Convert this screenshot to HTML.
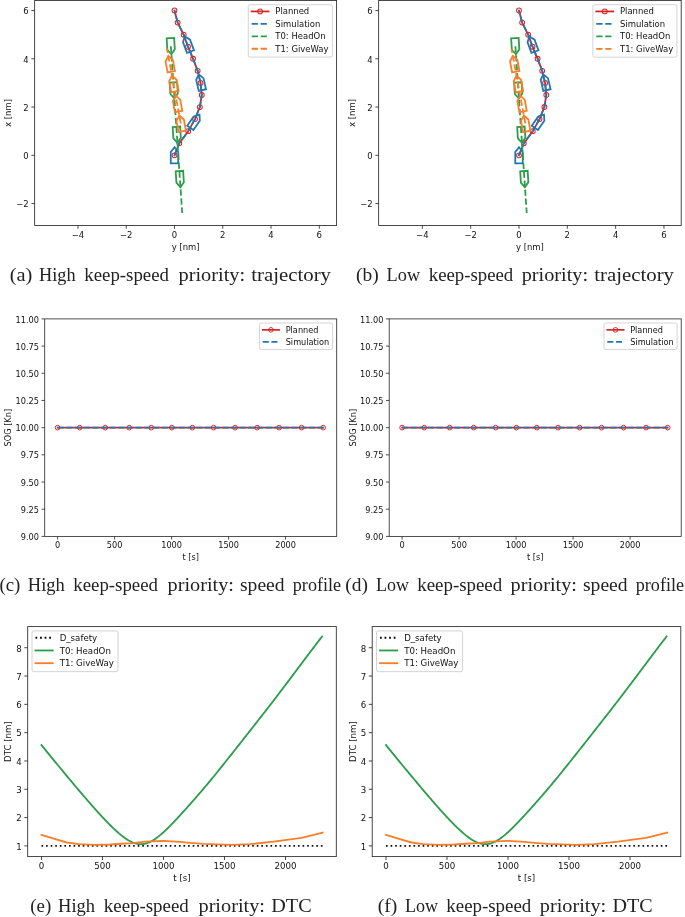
<!DOCTYPE html>
<html><head><meta charset="utf-8"><title>Figure</title>
<style>
html,body{margin:0;padding:0;background:#fff;}
svg{display:block;}
svg text{font-family:"DejaVu Sans","Liberation Sans",sans-serif;fill:#111;}
svg text.cap{font-family:"Liberation Serif","DejaVu Serif",serif;font-size:18.5px;fill:#222;}
</style></head><body>
<svg width="685" height="917" viewBox="0 0 685 917">
<rect width="685" height="917" fill="#fff"/>
<rect x="34.65" y="0.5" width="301.95" height="224.95" fill="#fff" stroke="#2a2a2a" stroke-width="0.85"/>
<line x1="77.98" y1="225.45" x2="77.98" y2="228.75" stroke="#2a2a2a" stroke-width="0.85"/>
<text x="77.98" y="237.79" font-size="8.46" text-anchor="middle">−4</text>
<line x1="126.24" y1="225.45" x2="126.24" y2="228.75" stroke="#2a2a2a" stroke-width="0.85"/>
<text x="126.24" y="237.79" font-size="8.46" text-anchor="middle">−2</text>
<line x1="174.5" y1="225.45" x2="174.5" y2="228.75" stroke="#2a2a2a" stroke-width="0.85"/>
<text x="174.5" y="237.79" font-size="8.46" text-anchor="middle">0</text>
<line x1="222.76" y1="225.45" x2="222.76" y2="228.75" stroke="#2a2a2a" stroke-width="0.85"/>
<text x="222.76" y="237.79" font-size="8.46" text-anchor="middle">2</text>
<line x1="271.02" y1="225.45" x2="271.02" y2="228.75" stroke="#2a2a2a" stroke-width="0.85"/>
<text x="271.02" y="237.79" font-size="8.46" text-anchor="middle">4</text>
<line x1="319.28" y1="225.45" x2="319.28" y2="228.75" stroke="#2a2a2a" stroke-width="0.85"/>
<text x="319.28" y="237.79" font-size="8.46" text-anchor="middle">6</text>
<line x1="34.65" y1="203.56" x2="31.35" y2="203.56" stroke="#2a2a2a" stroke-width="0.85"/>
<text x="28.73" y="207.28" font-size="8.46" text-anchor="end">−2</text>
<line x1="34.65" y1="155.3" x2="31.35" y2="155.3" stroke="#2a2a2a" stroke-width="0.85"/>
<text x="28.73" y="159.02" font-size="8.46" text-anchor="end">0</text>
<line x1="34.65" y1="107.04" x2="31.35" y2="107.04" stroke="#2a2a2a" stroke-width="0.85"/>
<text x="28.73" y="110.76" font-size="8.46" text-anchor="end">2</text>
<line x1="34.65" y1="58.78" x2="31.35" y2="58.78" stroke="#2a2a2a" stroke-width="0.85"/>
<text x="28.73" y="62.5" font-size="8.46" text-anchor="end">4</text>
<line x1="34.65" y1="10.52" x2="31.35" y2="10.52" stroke="#2a2a2a" stroke-width="0.85"/>
<text x="28.73" y="14.24" font-size="8.46" text-anchor="end">6</text>
<text x="185.62" y="249.63" font-size="8.46" text-anchor="middle">y [nm]</text>
<text transform="translate(11.05,112.97) rotate(-90)" font-size="8.46" text-anchor="middle">x [nm]</text>
<clipPath id="cp0"><rect x="34.65" y="0.5" width="301.95" height="224.95"/></clipPath>
<g clip-path="url(#cp0)">
<polyline points="174.5,155.3 179.33,143.24 188.25,131.17 195.01,119.11 199.84,107.04 201.77,94.98 200.56,82.91 197.66,70.85 193.08,58.78 188.01,46.72 183.67,34.65 177.64,22.59 174.5,10.52" fill="none" stroke="#d62728" stroke-width="1.79" stroke-linejoin="round" stroke-linecap="square"/>
<circle cx="174.5" cy="155.3" r="2.41" fill="none" stroke="#d62728" stroke-width="1.01"/>
<circle cx="179.33" cy="143.24" r="2.41" fill="none" stroke="#d62728" stroke-width="1.01"/>
<circle cx="188.25" cy="131.17" r="2.41" fill="none" stroke="#d62728" stroke-width="1.01"/>
<circle cx="195.01" cy="119.11" r="2.41" fill="none" stroke="#d62728" stroke-width="1.01"/>
<circle cx="199.84" cy="107.04" r="2.41" fill="none" stroke="#d62728" stroke-width="1.01"/>
<circle cx="201.77" cy="94.98" r="2.41" fill="none" stroke="#d62728" stroke-width="1.01"/>
<circle cx="200.56" cy="82.91" r="2.41" fill="none" stroke="#d62728" stroke-width="1.01"/>
<circle cx="197.66" cy="70.85" r="2.41" fill="none" stroke="#d62728" stroke-width="1.01"/>
<circle cx="193.08" cy="58.78" r="2.41" fill="none" stroke="#d62728" stroke-width="1.01"/>
<circle cx="188.01" cy="46.72" r="2.41" fill="none" stroke="#d62728" stroke-width="1.01"/>
<circle cx="183.67" cy="34.65" r="2.41" fill="none" stroke="#d62728" stroke-width="1.01"/>
<circle cx="177.64" cy="22.59" r="2.41" fill="none" stroke="#d62728" stroke-width="1.01"/>
<circle cx="174.5" cy="10.52" r="2.41" fill="none" stroke="#d62728" stroke-width="1.01"/>
<polyline points="174.5,155.3 179.33,143.24 188.25,131.17 195.01,119.11 199.84,107.04 201.77,94.98 200.56,82.91 197.66,70.85 193.08,58.78 188.01,46.72 183.67,34.65 177.64,22.59 174.5,10.52" fill="none" stroke="#1f77b4" stroke-width="1.79" stroke-linejoin="round" stroke-dasharray="6.26 2.71"/>
<polygon points="170.76,163.38 170.76,152.04 174.5,147.22 178.24,152.04 178.24,163.38" fill="none" stroke="#1f77b4" stroke-width="1.79" stroke-linejoin="miter"/>
<polygon points="187.23,125.82 193.65,116.47 199.47,114.61 199.82,120.71 193.39,130.06" fill="none" stroke="#1f77b4" stroke-width="1.79" stroke-linejoin="miter"/>
<polygon points="198.73,90.9 196.18,79.85 198.74,74.31 203.47,78.17 206.02,89.22" fill="none" stroke="#1f77b4" stroke-width="1.79" stroke-linejoin="miter"/>
<polygon points="186.98,52.94 183.01,42.32 184.82,36.49 190.01,39.7 193.99,50.32" fill="none" stroke="#1f77b4" stroke-width="1.79" stroke-linejoin="miter"/>
<polyline points="170.88,46.23 182.22,212.97" fill="none" stroke="#2a9e4b" stroke-width="1.79" stroke-linejoin="round" stroke-dasharray="6.26 2.71"/>
<polygon points="174.11,37.93 174.82,49.25 171.38,54.3 167.35,49.72 166.64,38.4" fill="none" stroke="#2a9e4b" stroke-width="1.79" stroke-linejoin="miter"/>
<polygon points="177.12,82.23 177.83,93.55 174.4,98.59 170.36,94.01 169.66,82.69" fill="none" stroke="#2a9e4b" stroke-width="1.79" stroke-linejoin="miter"/>
<polygon points="180.14,126.52 180.84,137.84 177.41,142.89 173.38,138.31 172.67,126.99" fill="none" stroke="#2a9e4b" stroke-width="1.79" stroke-linejoin="miter"/>
<polygon points="183.15,170.82 183.85,182.13 180.42,187.18 176.39,182.6 175.68,171.28" fill="none" stroke="#2a9e4b" stroke-width="1.79" stroke-linejoin="miter"/>
<polyline points="180.77,123.45 167.02,48.65" fill="none" stroke="#f97e27" stroke-width="1.79" stroke-linejoin="round" stroke-dasharray="6.26 2.71"/>
<polygon points="178.56,132.08 176.51,120.92 179.31,115.5 183.86,119.57 185.91,130.72" fill="none" stroke="#f97e27" stroke-width="1.79" stroke-linejoin="miter"/>
<polygon points="174.9,112.2 172.85,101.05 175.66,95.63 180.21,99.7 182.26,110.85" fill="none" stroke="#f97e27" stroke-width="1.79" stroke-linejoin="miter"/>
<polygon points="171.25,92.33 169.2,81.18 172,75.75 176.56,79.83 178.61,90.98" fill="none" stroke="#f97e27" stroke-width="1.79" stroke-linejoin="miter"/>
<polygon points="167.6,72.46 165.54,61.31 168.35,55.88 172.9,59.95 174.95,71.11" fill="none" stroke="#f97e27" stroke-width="1.79" stroke-linejoin="miter"/>
</g>
<rect x="248.27" y="4.73" width="84.1" height="52.32" rx="1.69" fill="#fff" fill-opacity="0.8" stroke="#ccc" stroke-width="0.85"/>
<line x1="251.65" y1="11.41" x2="268.56" y2="11.41" stroke="#d62728" stroke-width="1.79" stroke-linecap="square"/>
<circle cx="260.11" cy="11.41" r="2.41" fill="none" stroke="#d62728" stroke-width="1.01"/>
<text x="275.33" y="14.41" font-size="8.46">Planned</text>
<line x1="251.65" y1="23.85" x2="268.56" y2="23.85" stroke="#1f77b4" stroke-width="1.79" stroke-dasharray="6.26 2.71"/>
<text x="275.33" y="26.85" font-size="8.46">Simulation</text>
<line x1="251.65" y1="36.3" x2="268.56" y2="36.3" stroke="#2a9e4b" stroke-width="1.79" stroke-dasharray="6.26 2.71"/>
<text x="275.33" y="39.3" font-size="8.46">T0: HeadOn</text>
<line x1="251.65" y1="48.75" x2="268.56" y2="48.75" stroke="#f97e27" stroke-width="1.79" stroke-dasharray="6.26 2.71"/>
<text x="275.33" y="51.75" font-size="8.46">T1: GiveWay</text>
<rect x="378.65" y="0.5" width="302.55" height="224.95" fill="#fff" stroke="#2a2a2a" stroke-width="0.85"/>
<line x1="422.36" y1="225.45" x2="422.36" y2="228.75" stroke="#2a2a2a" stroke-width="0.85"/>
<text x="422.36" y="237.82" font-size="8.47" text-anchor="middle">−4</text>
<line x1="470.68" y1="225.45" x2="470.68" y2="228.75" stroke="#2a2a2a" stroke-width="0.85"/>
<text x="470.68" y="237.82" font-size="8.47" text-anchor="middle">−2</text>
<line x1="519" y1="225.45" x2="519" y2="228.75" stroke="#2a2a2a" stroke-width="0.85"/>
<text x="519" y="237.82" font-size="8.47" text-anchor="middle">0</text>
<line x1="567.32" y1="225.45" x2="567.32" y2="228.75" stroke="#2a2a2a" stroke-width="0.85"/>
<text x="567.32" y="237.82" font-size="8.47" text-anchor="middle">2</text>
<line x1="615.64" y1="225.45" x2="615.64" y2="228.75" stroke="#2a2a2a" stroke-width="0.85"/>
<text x="615.64" y="237.82" font-size="8.47" text-anchor="middle">4</text>
<line x1="663.96" y1="225.45" x2="663.96" y2="228.75" stroke="#2a2a2a" stroke-width="0.85"/>
<text x="663.96" y="237.82" font-size="8.47" text-anchor="middle">6</text>
<line x1="378.65" y1="203.56" x2="375.35" y2="203.56" stroke="#2a2a2a" stroke-width="0.85"/>
<text x="372.72" y="207.29" font-size="8.47" text-anchor="end">−2</text>
<line x1="378.65" y1="155.3" x2="375.35" y2="155.3" stroke="#2a2a2a" stroke-width="0.85"/>
<text x="372.72" y="159.03" font-size="8.47" text-anchor="end">0</text>
<line x1="378.65" y1="107.04" x2="375.35" y2="107.04" stroke="#2a2a2a" stroke-width="0.85"/>
<text x="372.72" y="110.77" font-size="8.47" text-anchor="end">2</text>
<line x1="378.65" y1="58.78" x2="375.35" y2="58.78" stroke="#2a2a2a" stroke-width="0.85"/>
<text x="372.72" y="62.51" font-size="8.47" text-anchor="end">4</text>
<line x1="378.65" y1="10.52" x2="375.35" y2="10.52" stroke="#2a2a2a" stroke-width="0.85"/>
<text x="372.72" y="14.25" font-size="8.47" text-anchor="end">6</text>
<text x="529.92" y="249.68" font-size="8.47" text-anchor="middle">y [nm]</text>
<text transform="translate(355.05,112.97) rotate(-90)" font-size="8.47" text-anchor="middle">x [nm]</text>
<clipPath id="cp344"><rect x="378.65" y="0.5" width="302.55" height="224.95"/></clipPath>
<g clip-path="url(#cp344)">
<polyline points="519,155.3 523.83,143.24 532.77,131.17 539.54,119.11 544.37,107.04 546.3,94.98 545.09,82.91 542.19,70.85 537.6,58.78 532.53,46.72 528.18,34.65 522.14,22.59 519,10.52" fill="none" stroke="#d62728" stroke-width="1.8" stroke-linejoin="round" stroke-linecap="square"/>
<circle cx="519" cy="155.3" r="2.41" fill="none" stroke="#d62728" stroke-width="1.02"/>
<circle cx="523.83" cy="143.24" r="2.41" fill="none" stroke="#d62728" stroke-width="1.02"/>
<circle cx="532.77" cy="131.17" r="2.41" fill="none" stroke="#d62728" stroke-width="1.02"/>
<circle cx="539.54" cy="119.11" r="2.41" fill="none" stroke="#d62728" stroke-width="1.02"/>
<circle cx="544.37" cy="107.04" r="2.41" fill="none" stroke="#d62728" stroke-width="1.02"/>
<circle cx="546.3" cy="94.98" r="2.41" fill="none" stroke="#d62728" stroke-width="1.02"/>
<circle cx="545.09" cy="82.91" r="2.41" fill="none" stroke="#d62728" stroke-width="1.02"/>
<circle cx="542.19" cy="70.85" r="2.41" fill="none" stroke="#d62728" stroke-width="1.02"/>
<circle cx="537.6" cy="58.78" r="2.41" fill="none" stroke="#d62728" stroke-width="1.02"/>
<circle cx="532.53" cy="46.72" r="2.41" fill="none" stroke="#d62728" stroke-width="1.02"/>
<circle cx="528.18" cy="34.65" r="2.41" fill="none" stroke="#d62728" stroke-width="1.02"/>
<circle cx="522.14" cy="22.59" r="2.41" fill="none" stroke="#d62728" stroke-width="1.02"/>
<circle cx="519" cy="10.52" r="2.41" fill="none" stroke="#d62728" stroke-width="1.02"/>
<polyline points="519,155.3 523.83,143.24 532.77,131.17 539.54,119.11 544.37,107.04 546.3,94.98 545.09,82.91 542.19,70.85 537.6,58.78 532.53,46.72 528.18,34.65 522.14,22.59 519,10.52" fill="none" stroke="#1f77b4" stroke-width="1.8" stroke-linejoin="round" stroke-dasharray="6.27 2.71"/>
<polygon points="515.26,163.38 515.26,152.04 519,147.22 522.74,152.04 522.74,163.38" fill="none" stroke="#1f77b4" stroke-width="1.8" stroke-linejoin="miter"/>
<polygon points="531.75,125.82 538.18,116.47 543.99,114.61 544.34,120.71 537.92,130.06" fill="none" stroke="#1f77b4" stroke-width="1.8" stroke-linejoin="miter"/>
<polygon points="543.27,90.9 540.72,79.85 543.27,74.31 548,78.17 550.56,89.22" fill="none" stroke="#1f77b4" stroke-width="1.8" stroke-linejoin="miter"/>
<polygon points="531.49,52.94 527.52,42.32 529.34,36.49 534.53,39.7 538.5,50.32" fill="none" stroke="#1f77b4" stroke-width="1.8" stroke-linejoin="miter"/>
<polyline points="515.38,46.23 526.73,212.97" fill="none" stroke="#2a9e4b" stroke-width="1.8" stroke-linejoin="round" stroke-dasharray="6.27 2.71"/>
<polygon points="518.61,37.93 519.31,49.25 515.88,54.3 511.85,49.72 511.14,38.4" fill="none" stroke="#2a9e4b" stroke-width="1.8" stroke-linejoin="miter"/>
<polygon points="521.62,82.23 522.33,93.55 518.9,98.59 514.86,94.01 514.16,82.69" fill="none" stroke="#2a9e4b" stroke-width="1.8" stroke-linejoin="miter"/>
<polygon points="524.64,126.52 525.34,137.84 521.91,142.89 517.88,138.31 517.17,126.99" fill="none" stroke="#2a9e4b" stroke-width="1.8" stroke-linejoin="miter"/>
<polygon points="527.66,170.82 528.36,182.13 524.93,187.18 520.9,182.6 520.19,171.28" fill="none" stroke="#2a9e4b" stroke-width="1.8" stroke-linejoin="miter"/>
<polyline points="525.28,123.45 511.51,48.65" fill="none" stroke="#f97e27" stroke-width="1.8" stroke-linejoin="round" stroke-dasharray="6.27 2.71"/>
<polygon points="523.06,132.08 521.01,120.92 523.82,115.5 528.37,119.57 530.42,130.72" fill="none" stroke="#f97e27" stroke-width="1.8" stroke-linejoin="miter"/>
<polygon points="519.41,112.2 517.36,101.05 520.16,95.63 524.71,99.7 526.76,110.85" fill="none" stroke="#f97e27" stroke-width="1.8" stroke-linejoin="miter"/>
<polygon points="515.75,92.33 513.7,81.18 516.5,75.75 521.05,79.83 523.11,90.98" fill="none" stroke="#f97e27" stroke-width="1.8" stroke-linejoin="miter"/>
<polygon points="512.09,72.46 510.04,61.31 512.84,55.88 517.4,59.95 519.45,71.11" fill="none" stroke="#f97e27" stroke-width="1.8" stroke-linejoin="miter"/>
</g>
<rect x="592.86" y="4.74" width="84.1" height="52.42" rx="1.69" fill="#fff" fill-opacity="0.8" stroke="#ccc" stroke-width="0.85"/>
<line x1="596.25" y1="11.43" x2="613.2" y2="11.43" stroke="#d62728" stroke-width="1.8" stroke-linecap="square"/>
<circle cx="604.72" cy="11.43" r="2.41" fill="none" stroke="#d62728" stroke-width="1.02"/>
<text x="619.97" y="14.44" font-size="8.47">Planned</text>
<line x1="596.25" y1="23.9" x2="613.2" y2="23.9" stroke="#1f77b4" stroke-width="1.8" stroke-dasharray="6.27 2.71"/>
<text x="619.97" y="26.91" font-size="8.47">Simulation</text>
<line x1="596.25" y1="36.37" x2="613.2" y2="36.37" stroke="#2a9e4b" stroke-width="1.8" stroke-dasharray="6.27 2.71"/>
<text x="619.97" y="39.38" font-size="8.47">T0: HeadOn</text>
<line x1="596.25" y1="48.84" x2="613.2" y2="48.84" stroke="#f97e27" stroke-width="1.8" stroke-dasharray="6.27 2.71"/>
<text x="619.97" y="51.85" font-size="8.47">T1: GiveWay</text>
<rect x="44.7" y="318.9" width="292" height="217.5" fill="#fff" stroke="#2a2a2a" stroke-width="0.82"/>
<line x1="57.6" y1="536.4" x2="57.6" y2="539.59" stroke="#2a2a2a" stroke-width="0.82"/>
<text x="57.6" y="548.34" font-size="8.18" text-anchor="middle">0</text>
<line x1="114.6" y1="536.4" x2="114.6" y2="539.59" stroke="#2a2a2a" stroke-width="0.82"/>
<text x="114.6" y="548.34" font-size="8.18" text-anchor="middle">500</text>
<line x1="171.6" y1="536.4" x2="171.6" y2="539.59" stroke="#2a2a2a" stroke-width="0.82"/>
<text x="171.6" y="548.34" font-size="8.18" text-anchor="middle">1000</text>
<line x1="228.6" y1="536.4" x2="228.6" y2="539.59" stroke="#2a2a2a" stroke-width="0.82"/>
<text x="228.6" y="548.34" font-size="8.18" text-anchor="middle">1500</text>
<line x1="285.6" y1="536.4" x2="285.6" y2="539.59" stroke="#2a2a2a" stroke-width="0.82"/>
<text x="285.6" y="548.34" font-size="8.18" text-anchor="middle">2000</text>
<line x1="44.7" y1="536.4" x2="41.51" y2="536.4" stroke="#2a2a2a" stroke-width="0.82"/>
<text x="38.98" y="540" font-size="8.18" text-anchor="end">9.00</text>
<line x1="44.7" y1="509.21" x2="41.51" y2="509.21" stroke="#2a2a2a" stroke-width="0.82"/>
<text x="38.98" y="512.81" font-size="8.18" text-anchor="end">9.25</text>
<line x1="44.7" y1="482.02" x2="41.51" y2="482.02" stroke="#2a2a2a" stroke-width="0.82"/>
<text x="38.98" y="485.62" font-size="8.18" text-anchor="end">9.50</text>
<line x1="44.7" y1="454.84" x2="41.51" y2="454.84" stroke="#2a2a2a" stroke-width="0.82"/>
<text x="38.98" y="458.44" font-size="8.18" text-anchor="end">9.75</text>
<line x1="44.7" y1="427.65" x2="41.51" y2="427.65" stroke="#2a2a2a" stroke-width="0.82"/>
<text x="38.98" y="431.25" font-size="8.18" text-anchor="end">10.00</text>
<line x1="44.7" y1="400.46" x2="41.51" y2="400.46" stroke="#2a2a2a" stroke-width="0.82"/>
<text x="38.98" y="404.06" font-size="8.18" text-anchor="end">10.25</text>
<line x1="44.7" y1="373.27" x2="41.51" y2="373.27" stroke="#2a2a2a" stroke-width="0.82"/>
<text x="38.98" y="376.87" font-size="8.18" text-anchor="end">10.50</text>
<line x1="44.7" y1="346.09" x2="41.51" y2="346.09" stroke="#2a2a2a" stroke-width="0.82"/>
<text x="38.98" y="349.69" font-size="8.18" text-anchor="end">10.75</text>
<line x1="44.7" y1="318.9" x2="41.51" y2="318.9" stroke="#2a2a2a" stroke-width="0.82"/>
<text x="38.98" y="322.5" font-size="8.18" text-anchor="end">11.00</text>
<text x="190.7" y="559.79" font-size="8.18" text-anchor="middle">t [s]</text>
<text transform="translate(11.4,427.65) rotate(-90)" font-size="8.18" text-anchor="middle">SOG [Kn]</text>
<polyline points="57.6,427.65 79.72,427.65 105.25,427.65 129.19,427.65 151.19,427.65 171.83,427.65 192.35,427.65 213.55,427.65 235.1,427.65 257.1,427.65 279.1,427.65 301.56,427.65 323.22,427.65" fill="none" stroke="#d62728" stroke-width="1.73" stroke-linejoin="round" stroke-linecap="square"/>
<circle cx="57.6" cy="427.65" r="2.33" fill="none" stroke="#d62728" stroke-width="0.98"/>
<circle cx="79.72" cy="427.65" r="2.33" fill="none" stroke="#d62728" stroke-width="0.98"/>
<circle cx="105.25" cy="427.65" r="2.33" fill="none" stroke="#d62728" stroke-width="0.98"/>
<circle cx="129.19" cy="427.65" r="2.33" fill="none" stroke="#d62728" stroke-width="0.98"/>
<circle cx="151.19" cy="427.65" r="2.33" fill="none" stroke="#d62728" stroke-width="0.98"/>
<circle cx="171.83" cy="427.65" r="2.33" fill="none" stroke="#d62728" stroke-width="0.98"/>
<circle cx="192.35" cy="427.65" r="2.33" fill="none" stroke="#d62728" stroke-width="0.98"/>
<circle cx="213.55" cy="427.65" r="2.33" fill="none" stroke="#d62728" stroke-width="0.98"/>
<circle cx="235.1" cy="427.65" r="2.33" fill="none" stroke="#d62728" stroke-width="0.98"/>
<circle cx="257.1" cy="427.65" r="2.33" fill="none" stroke="#d62728" stroke-width="0.98"/>
<circle cx="279.1" cy="427.65" r="2.33" fill="none" stroke="#d62728" stroke-width="0.98"/>
<circle cx="301.56" cy="427.65" r="2.33" fill="none" stroke="#d62728" stroke-width="0.98"/>
<circle cx="323.22" cy="427.65" r="2.33" fill="none" stroke="#d62728" stroke-width="0.98"/>
<polyline points="57.6,427.65 323.22,427.65" fill="none" stroke="#1f77b4" stroke-width="1.73" stroke-linejoin="round" stroke-dasharray="6.05 2.62"/>
<rect x="259.51" y="322.99" width="73.1" height="26.52" rx="1.64" fill="#fff" fill-opacity="0.8" stroke="#ccc" stroke-width="0.82"/>
<line x1="262.78" y1="329.85" x2="279.14" y2="329.85" stroke="#d62728" stroke-width="1.73" stroke-linecap="square"/>
<circle cx="270.96" cy="329.85" r="2.33" fill="none" stroke="#d62728" stroke-width="0.98"/>
<text x="285.68" y="332.75" font-size="8.18">Planned</text>
<line x1="262.78" y1="341.88" x2="279.14" y2="341.88" stroke="#1f77b4" stroke-width="1.73" stroke-dasharray="6.05 2.62"/>
<text x="285.68" y="344.79" font-size="8.18">Simulation</text>
<rect x="389.2" y="318.9" width="292" height="217.5" fill="#fff" stroke="#2a2a2a" stroke-width="0.82"/>
<line x1="402.1" y1="536.4" x2="402.1" y2="539.59" stroke="#2a2a2a" stroke-width="0.82"/>
<text x="402.1" y="548.34" font-size="8.18" text-anchor="middle">0</text>
<line x1="459.1" y1="536.4" x2="459.1" y2="539.59" stroke="#2a2a2a" stroke-width="0.82"/>
<text x="459.1" y="548.34" font-size="8.18" text-anchor="middle">500</text>
<line x1="516.1" y1="536.4" x2="516.1" y2="539.59" stroke="#2a2a2a" stroke-width="0.82"/>
<text x="516.1" y="548.34" font-size="8.18" text-anchor="middle">1000</text>
<line x1="573.1" y1="536.4" x2="573.1" y2="539.59" stroke="#2a2a2a" stroke-width="0.82"/>
<text x="573.1" y="548.34" font-size="8.18" text-anchor="middle">1500</text>
<line x1="630.1" y1="536.4" x2="630.1" y2="539.59" stroke="#2a2a2a" stroke-width="0.82"/>
<text x="630.1" y="548.34" font-size="8.18" text-anchor="middle">2000</text>
<line x1="389.2" y1="536.4" x2="386.01" y2="536.4" stroke="#2a2a2a" stroke-width="0.82"/>
<text x="383.48" y="540" font-size="8.18" text-anchor="end">9.00</text>
<line x1="389.2" y1="509.21" x2="386.01" y2="509.21" stroke="#2a2a2a" stroke-width="0.82"/>
<text x="383.48" y="512.81" font-size="8.18" text-anchor="end">9.25</text>
<line x1="389.2" y1="482.02" x2="386.01" y2="482.02" stroke="#2a2a2a" stroke-width="0.82"/>
<text x="383.48" y="485.62" font-size="8.18" text-anchor="end">9.50</text>
<line x1="389.2" y1="454.84" x2="386.01" y2="454.84" stroke="#2a2a2a" stroke-width="0.82"/>
<text x="383.48" y="458.44" font-size="8.18" text-anchor="end">9.75</text>
<line x1="389.2" y1="427.65" x2="386.01" y2="427.65" stroke="#2a2a2a" stroke-width="0.82"/>
<text x="383.48" y="431.25" font-size="8.18" text-anchor="end">10.00</text>
<line x1="389.2" y1="400.46" x2="386.01" y2="400.46" stroke="#2a2a2a" stroke-width="0.82"/>
<text x="383.48" y="404.06" font-size="8.18" text-anchor="end">10.25</text>
<line x1="389.2" y1="373.27" x2="386.01" y2="373.27" stroke="#2a2a2a" stroke-width="0.82"/>
<text x="383.48" y="376.87" font-size="8.18" text-anchor="end">10.50</text>
<line x1="389.2" y1="346.09" x2="386.01" y2="346.09" stroke="#2a2a2a" stroke-width="0.82"/>
<text x="383.48" y="349.69" font-size="8.18" text-anchor="end">10.75</text>
<line x1="389.2" y1="318.9" x2="386.01" y2="318.9" stroke="#2a2a2a" stroke-width="0.82"/>
<text x="383.48" y="322.5" font-size="8.18" text-anchor="end">11.00</text>
<text x="535.2" y="559.79" font-size="8.18" text-anchor="middle">t [s]</text>
<text transform="translate(355.9,427.65) rotate(-90)" font-size="8.18" text-anchor="middle">SOG [Kn]</text>
<polyline points="402.1,427.65 424.22,427.65 449.75,427.65 473.69,427.65 495.69,427.65 516.33,427.65 536.85,427.65 558.05,427.65 579.6,427.65 601.6,427.65 623.6,427.65 646.06,427.65 667.72,427.65" fill="none" stroke="#d62728" stroke-width="1.73" stroke-linejoin="round" stroke-linecap="square"/>
<circle cx="402.1" cy="427.65" r="2.33" fill="none" stroke="#d62728" stroke-width="0.98"/>
<circle cx="424.22" cy="427.65" r="2.33" fill="none" stroke="#d62728" stroke-width="0.98"/>
<circle cx="449.75" cy="427.65" r="2.33" fill="none" stroke="#d62728" stroke-width="0.98"/>
<circle cx="473.69" cy="427.65" r="2.33" fill="none" stroke="#d62728" stroke-width="0.98"/>
<circle cx="495.69" cy="427.65" r="2.33" fill="none" stroke="#d62728" stroke-width="0.98"/>
<circle cx="516.33" cy="427.65" r="2.33" fill="none" stroke="#d62728" stroke-width="0.98"/>
<circle cx="536.85" cy="427.65" r="2.33" fill="none" stroke="#d62728" stroke-width="0.98"/>
<circle cx="558.05" cy="427.65" r="2.33" fill="none" stroke="#d62728" stroke-width="0.98"/>
<circle cx="579.6" cy="427.65" r="2.33" fill="none" stroke="#d62728" stroke-width="0.98"/>
<circle cx="601.6" cy="427.65" r="2.33" fill="none" stroke="#d62728" stroke-width="0.98"/>
<circle cx="623.6" cy="427.65" r="2.33" fill="none" stroke="#d62728" stroke-width="0.98"/>
<circle cx="646.06" cy="427.65" r="2.33" fill="none" stroke="#d62728" stroke-width="0.98"/>
<circle cx="667.72" cy="427.65" r="2.33" fill="none" stroke="#d62728" stroke-width="0.98"/>
<polyline points="402.1,427.65 667.72,427.65" fill="none" stroke="#1f77b4" stroke-width="1.73" stroke-linejoin="round" stroke-dasharray="6.05 2.62"/>
<rect x="604.01" y="322.99" width="73.1" height="26.52" rx="1.64" fill="#fff" fill-opacity="0.8" stroke="#ccc" stroke-width="0.82"/>
<line x1="607.28" y1="329.85" x2="623.64" y2="329.85" stroke="#d62728" stroke-width="1.73" stroke-linecap="square"/>
<circle cx="615.46" cy="329.85" r="2.33" fill="none" stroke="#d62728" stroke-width="0.98"/>
<text x="630.18" y="332.75" font-size="8.18">Planned</text>
<line x1="607.28" y1="341.88" x2="623.64" y2="341.88" stroke="#1f77b4" stroke-width="1.73" stroke-dasharray="6.05 2.62"/>
<text x="630.18" y="344.79" font-size="8.18">Simulation</text>
<rect x="27.7" y="626.6" width="308.6" height="230" fill="#fff" stroke="#2a2a2a" stroke-width="0.86"/>
<line x1="41.5" y1="856.6" x2="41.5" y2="859.97" stroke="#2a2a2a" stroke-width="0.86"/>
<text x="41.5" y="869.22" font-size="8.64" text-anchor="middle">0</text>
<line x1="102.5" y1="856.6" x2="102.5" y2="859.97" stroke="#2a2a2a" stroke-width="0.86"/>
<text x="102.5" y="869.22" font-size="8.64" text-anchor="middle">500</text>
<line x1="163.5" y1="856.6" x2="163.5" y2="859.97" stroke="#2a2a2a" stroke-width="0.86"/>
<text x="163.5" y="869.22" font-size="8.64" text-anchor="middle">1000</text>
<line x1="224.5" y1="856.6" x2="224.5" y2="859.97" stroke="#2a2a2a" stroke-width="0.86"/>
<text x="224.5" y="869.22" font-size="8.64" text-anchor="middle">1500</text>
<line x1="285.5" y1="856.6" x2="285.5" y2="859.97" stroke="#2a2a2a" stroke-width="0.86"/>
<text x="285.5" y="869.22" font-size="8.64" text-anchor="middle">2000</text>
<line x1="27.7" y1="845.9" x2="24.33" y2="845.9" stroke="#2a2a2a" stroke-width="0.86"/>
<text x="21.65" y="849.7" font-size="8.64" text-anchor="end">1</text>
<line x1="27.7" y1="817.59" x2="24.33" y2="817.59" stroke="#2a2a2a" stroke-width="0.86"/>
<text x="21.65" y="821.39" font-size="8.64" text-anchor="end">2</text>
<line x1="27.7" y1="789.28" x2="24.33" y2="789.28" stroke="#2a2a2a" stroke-width="0.86"/>
<text x="21.65" y="793.08" font-size="8.64" text-anchor="end">3</text>
<line x1="27.7" y1="760.97" x2="24.33" y2="760.97" stroke="#2a2a2a" stroke-width="0.86"/>
<text x="21.65" y="764.77" font-size="8.64" text-anchor="end">4</text>
<line x1="27.7" y1="732.66" x2="24.33" y2="732.66" stroke="#2a2a2a" stroke-width="0.86"/>
<text x="21.65" y="736.46" font-size="8.64" text-anchor="end">5</text>
<line x1="27.7" y1="704.35" x2="24.33" y2="704.35" stroke="#2a2a2a" stroke-width="0.86"/>
<text x="21.65" y="708.15" font-size="8.64" text-anchor="end">6</text>
<line x1="27.7" y1="676.04" x2="24.33" y2="676.04" stroke="#2a2a2a" stroke-width="0.86"/>
<text x="21.65" y="679.84" font-size="8.64" text-anchor="end">7</text>
<line x1="27.7" y1="647.73" x2="24.33" y2="647.73" stroke="#2a2a2a" stroke-width="0.86"/>
<text x="21.65" y="651.53" font-size="8.64" text-anchor="end">8</text>
<text x="182" y="881.31" font-size="8.64" text-anchor="middle">t [s]</text>
<text transform="translate(11.1,741.6) rotate(-90)" font-size="8.64" text-anchor="middle">DTC [nm]</text>
<polyline points="41.5,845.9 322.71,845.9" fill="none" stroke="#111" stroke-width="1.64" stroke-linejoin="round" stroke-dasharray="1.64 2.94"/>
<polyline points="41.5,745.16 42.11,745.91 42.72,746.65 43.33,747.4 43.94,748.15 44.55,748.9 45.16,749.65 45.77,750.39 46.38,751.14 46.99,751.89 47.6,752.63 48.21,753.38 48.82,754.13 49.43,754.87 50.04,755.62 50.65,756.36 51.26,757.11 51.87,757.85 52.48,758.59 53.09,759.34 53.7,760.08 54.31,760.82 54.92,761.56 55.53,762.31 56.14,763.05 56.75,763.79 57.36,764.53 57.97,765.27 58.58,766.01 59.19,766.75 59.8,767.49 60.41,768.23 61.02,768.97 61.63,769.7 62.24,770.44 62.85,771.18 63.46,771.92 64.07,772.65 64.68,773.39 65.29,774.12 65.9,774.86 66.51,775.59 67.12,776.32 67.73,777.06 68.34,777.79 68.95,778.52 69.56,779.25 70.17,779.98 70.78,780.71 71.39,781.44 72,782.17 72.61,782.89 73.22,783.62 73.83,784.35 74.44,785.07 75.05,785.8 75.66,786.52 76.27,787.25 76.88,787.97 77.49,788.69 78.1,789.41 78.71,790.13 79.32,790.85 79.93,791.57 80.54,792.28 81.15,793 81.76,793.71 82.37,794.43 82.98,795.14 83.59,795.85 84.2,796.56 84.81,797.27 85.42,797.98 86.03,798.69 86.64,799.4 87.25,800.1 87.86,800.8 88.47,801.51 89.08,802.21 89.69,802.91 90.3,803.6 90.91,804.3 91.52,804.99 92.13,805.69 92.74,806.38 93.35,807.07 93.96,807.76 94.57,808.44 95.18,809.13 95.79,809.81 96.4,810.49 97.01,811.17 97.62,811.84 98.23,812.52 98.84,813.19 99.45,813.86 100.06,814.53 100.67,815.19 101.28,815.85 101.89,816.51 102.5,817.17 103.11,817.82 103.72,818.47 104.33,819.12 104.94,819.76 105.55,820.4 106.16,821.04 106.77,821.67 107.38,822.3 107.99,822.93 108.6,823.55 109.21,824.17 109.82,824.79 110.43,825.4 111.04,826 111.65,826.6 112.26,827.2 112.87,827.79 113.48,828.37 114.09,828.95 114.7,829.52 115.31,830.09 115.92,830.65 116.53,831.21 117.14,831.76 117.75,832.3 118.36,832.83 118.97,833.36 119.58,833.88 120.19,834.39 120.8,834.89 121.41,835.38 122.02,835.86 122.63,836.34 123.24,836.8 123.85,837.26 124.46,837.7 125.07,838.14 125.68,838.56 126.29,838.97 126.9,839.36 127.51,839.75 128.12,840.12 128.73,840.48 129.34,840.82 129.95,841.16 130.56,841.47 131.17,841.77 131.78,842.06 132.39,842.32 133,842.58 133.61,842.81 134.22,843.03 134.83,843.23 135.44,843.41 136.05,843.58 136.66,843.72 137.27,843.85 137.88,843.96 138.49,844.04 139.1,844.11 139.71,844.16 140.32,844.19 140.93,844.2 141.54,844.19 142.15,844.16 142.76,844.11 143.37,844.03 143.98,843.94 144.59,843.83 145.2,843.69 145.81,843.54 146.42,843.36 147.03,843.17 147.64,842.96 148.25,842.72 148.86,842.48 149.47,842.21 150.08,841.92 150.69,841.62 151.3,841.3 151.91,840.97 152.52,840.62 153.13,840.26 153.74,839.88 154.35,839.49 154.96,839.08 155.57,838.66 156.18,838.23 156.79,837.78 157.4,837.33 158.01,836.86 158.62,836.38 159.23,835.89 159.84,835.4 160.45,834.89 161.06,834.37 161.67,833.84 162.28,833.31 162.89,832.76 163.5,832.21 164.11,831.65 164.72,831.09 165.33,830.51 165.94,829.93 166.55,829.34 167.16,828.75 167.77,828.15 168.38,827.55 168.99,826.94 169.6,826.32 170.21,825.7 170.82,825.07 171.43,824.45 172.04,823.82 172.65,823.18 173.26,822.55 173.87,821.91 174.48,821.27 175.09,820.62 175.7,819.98 176.31,819.33 176.92,818.68 177.53,818.02 178.14,817.37 178.75,816.71 179.36,816.05 179.97,815.39 180.58,814.72 181.19,814.06 181.8,813.39 182.41,812.72 183.02,812.05 183.63,811.38 184.24,810.71 184.85,810.03 185.46,809.36 186.07,808.68 186.68,808 187.29,807.32 187.9,806.64 188.51,805.95 189.12,805.27 189.73,804.58 190.34,803.89 190.95,803.2 191.56,802.51 192.17,801.82 192.78,801.13 193.39,800.43 194,799.74 194.61,799.04 195.22,798.34 195.83,797.64 196.44,796.94 197.05,796.24 197.66,795.53 198.27,794.83 198.88,794.12 199.49,793.41 200.1,792.7 200.71,791.99 201.32,791.28 201.93,790.57 202.54,789.85 203.15,789.14 203.76,788.42 204.37,787.7 204.98,786.98 205.59,786.26 206.2,785.53 206.81,784.81 207.42,784.08 208.03,783.35 208.64,782.62 209.25,781.89 209.86,781.15 210.47,780.42 211.08,779.68 211.69,778.94 212.3,778.2 212.91,777.46 213.52,776.71 214.13,775.97 214.74,775.22 215.35,774.47 215.96,773.72 216.57,772.96 217.18,772.21 217.79,771.45 218.4,770.69 219.01,769.93 219.62,769.17 220.23,768.4 220.84,767.64 221.45,766.88 222.06,766.11 222.67,765.35 223.28,764.58 223.89,763.82 224.5,763.05 225.11,762.29 225.72,761.52 226.33,760.76 226.94,759.99 227.55,759.22 228.16,758.45 228.77,757.69 229.38,756.92 229.99,756.15 230.6,755.38 231.21,754.61 231.82,753.84 232.43,753.07 233.04,752.3 233.65,751.53 234.26,750.76 234.87,749.99 235.48,749.22 236.09,748.45 236.7,747.67 237.31,746.9 237.92,746.13 238.53,745.36 239.14,744.58 239.75,743.81 240.36,743.04 240.97,742.26 241.58,741.49 242.19,740.72 242.8,739.94 243.41,739.17 244.02,738.39 244.63,737.62 245.24,736.84 245.85,736.07 246.46,735.29 247.07,734.51 247.68,733.74 248.29,732.96 248.9,732.19 249.51,731.41 250.12,730.63 250.73,729.86 251.34,729.08 251.95,728.3 252.56,727.52 253.17,726.75 253.78,725.97 254.39,725.19 255,724.41 255.61,723.63 256.22,722.85 256.83,722.08 257.44,721.3 258.05,720.52 258.66,719.74 259.27,718.96 259.88,718.18 260.49,717.4 261.1,716.62 261.71,715.84 262.32,715.06 262.93,714.28 263.54,713.5 264.15,712.72 264.76,711.94 265.37,711.16 265.98,710.38 266.59,709.6 267.2,708.81 267.81,708.03 268.42,707.25 269.03,706.46 269.64,705.68 270.25,704.89 270.86,704.1 271.47,703.31 272.08,702.52 272.69,701.73 273.3,700.94 273.91,700.15 274.52,699.35 275.13,698.55 275.74,697.76 276.35,696.96 276.96,696.16 277.57,695.36 278.18,694.56 278.79,693.76 279.4,692.96 280.01,692.15 280.62,691.35 281.23,690.54 281.84,689.74 282.45,688.93 283.06,688.13 283.67,687.32 284.28,686.51 284.89,685.7 285.5,684.9 286.11,684.09 286.72,683.28 287.33,682.47 287.94,681.66 288.55,680.84 289.16,680.03 289.77,679.22 290.38,678.41 290.99,677.6 291.6,676.78 292.21,675.97 292.82,675.16 293.43,674.34 294.04,673.53 294.65,672.72 295.26,671.9 295.87,671.09 296.48,670.28 297.09,669.46 297.7,668.65 298.31,667.84 298.92,667.02 299.53,666.21 300.14,665.4 300.75,664.58 301.36,663.77 301.97,662.96 302.58,662.15 303.19,661.34 303.8,660.52 304.41,659.71 305.02,658.9 305.63,658.09 306.24,657.28 306.85,656.47 307.46,655.66 308.07,654.85 308.68,654.05 309.29,653.24 309.9,652.43 310.51,651.63 311.12,650.82 311.73,650.01 312.34,649.21 312.95,648.41 313.56,647.6 314.17,646.8 314.78,646 315.39,645.2 316,644.4 316.61,643.6 317.22,642.81 317.83,642.01 318.44,641.21 319.05,640.42 319.66,639.63 320.27,638.83 320.88,638.04 321.49,637.25 322.1,636.46" fill="none" stroke="#2a9e4b" stroke-width="1.83" stroke-linejoin="round" stroke-linecap="square"/>
<polyline points="41.5,835 55.41,839.11 67,842.5 78.71,844.2 95.06,844.91 109.94,844.48 120.8,843.78 133.37,843.07 145.08,841.65 163.5,840.8 180.09,841.94 189.97,842.79 203.39,843.92 231.45,844.91 250,844.2 273.42,841.65 301.48,837.83 310.75,835.71 322.71,832.71" fill="none" stroke="#f97e27" stroke-width="1.83" stroke-linejoin="round" stroke-linecap="square"/>
<rect x="32.02" y="630.92" width="86" height="40.75" rx="1.73" fill="#fff" fill-opacity="0.8" stroke="#ccc" stroke-width="0.86"/>
<line x1="35.48" y1="637.75" x2="52.76" y2="637.75" stroke="#000" stroke-width="1.83" stroke-dasharray="1.73 2.85"/>
<text x="59.67" y="640.82" font-size="8.64">D_safety</text>
<line x1="35.48" y1="650.47" x2="52.76" y2="650.47" stroke="#2a9e4b" stroke-width="1.83" stroke-linecap="square"/>
<text x="59.67" y="653.54" font-size="8.64">T0: HeadOn</text>
<line x1="35.48" y1="663.19" x2="52.76" y2="663.19" stroke="#f97e27" stroke-width="1.83" stroke-linecap="square"/>
<text x="59.67" y="666.26" font-size="8.64">T1: GiveWay</text>
<rect x="372.2" y="626.6" width="308.6" height="230" fill="#fff" stroke="#2a2a2a" stroke-width="0.86"/>
<line x1="386" y1="856.6" x2="386" y2="859.97" stroke="#2a2a2a" stroke-width="0.86"/>
<text x="386" y="869.22" font-size="8.64" text-anchor="middle">0</text>
<line x1="447" y1="856.6" x2="447" y2="859.97" stroke="#2a2a2a" stroke-width="0.86"/>
<text x="447" y="869.22" font-size="8.64" text-anchor="middle">500</text>
<line x1="508" y1="856.6" x2="508" y2="859.97" stroke="#2a2a2a" stroke-width="0.86"/>
<text x="508" y="869.22" font-size="8.64" text-anchor="middle">1000</text>
<line x1="569" y1="856.6" x2="569" y2="859.97" stroke="#2a2a2a" stroke-width="0.86"/>
<text x="569" y="869.22" font-size="8.64" text-anchor="middle">1500</text>
<line x1="630" y1="856.6" x2="630" y2="859.97" stroke="#2a2a2a" stroke-width="0.86"/>
<text x="630" y="869.22" font-size="8.64" text-anchor="middle">2000</text>
<line x1="372.2" y1="845.9" x2="368.83" y2="845.9" stroke="#2a2a2a" stroke-width="0.86"/>
<text x="366.15" y="849.7" font-size="8.64" text-anchor="end">1</text>
<line x1="372.2" y1="817.59" x2="368.83" y2="817.59" stroke="#2a2a2a" stroke-width="0.86"/>
<text x="366.15" y="821.39" font-size="8.64" text-anchor="end">2</text>
<line x1="372.2" y1="789.28" x2="368.83" y2="789.28" stroke="#2a2a2a" stroke-width="0.86"/>
<text x="366.15" y="793.08" font-size="8.64" text-anchor="end">3</text>
<line x1="372.2" y1="760.97" x2="368.83" y2="760.97" stroke="#2a2a2a" stroke-width="0.86"/>
<text x="366.15" y="764.77" font-size="8.64" text-anchor="end">4</text>
<line x1="372.2" y1="732.66" x2="368.83" y2="732.66" stroke="#2a2a2a" stroke-width="0.86"/>
<text x="366.15" y="736.46" font-size="8.64" text-anchor="end">5</text>
<line x1="372.2" y1="704.35" x2="368.83" y2="704.35" stroke="#2a2a2a" stroke-width="0.86"/>
<text x="366.15" y="708.15" font-size="8.64" text-anchor="end">6</text>
<line x1="372.2" y1="676.04" x2="368.83" y2="676.04" stroke="#2a2a2a" stroke-width="0.86"/>
<text x="366.15" y="679.84" font-size="8.64" text-anchor="end">7</text>
<line x1="372.2" y1="647.73" x2="368.83" y2="647.73" stroke="#2a2a2a" stroke-width="0.86"/>
<text x="366.15" y="651.53" font-size="8.64" text-anchor="end">8</text>
<text x="526.5" y="881.31" font-size="8.64" text-anchor="middle">t [s]</text>
<text transform="translate(355.6,741.6) rotate(-90)" font-size="8.64" text-anchor="middle">DTC [nm]</text>
<polyline points="386,845.9 667.21,845.9" fill="none" stroke="#111" stroke-width="1.64" stroke-linejoin="round" stroke-dasharray="1.64 2.94"/>
<polyline points="386,745.16 386.61,745.91 387.22,746.65 387.83,747.4 388.44,748.15 389.05,748.9 389.66,749.65 390.27,750.39 390.88,751.14 391.49,751.89 392.1,752.63 392.71,753.38 393.32,754.13 393.93,754.87 394.54,755.62 395.15,756.36 395.76,757.11 396.37,757.85 396.98,758.59 397.59,759.34 398.2,760.08 398.81,760.82 399.42,761.56 400.03,762.31 400.64,763.05 401.25,763.79 401.86,764.53 402.47,765.27 403.08,766.01 403.69,766.75 404.3,767.49 404.91,768.23 405.52,768.97 406.13,769.7 406.74,770.44 407.35,771.18 407.96,771.92 408.57,772.65 409.18,773.39 409.79,774.12 410.4,774.86 411.01,775.59 411.62,776.32 412.23,777.06 412.84,777.79 413.45,778.52 414.06,779.25 414.67,779.98 415.28,780.71 415.89,781.44 416.5,782.17 417.11,782.89 417.72,783.62 418.33,784.35 418.94,785.07 419.55,785.8 420.16,786.52 420.77,787.25 421.38,787.97 421.99,788.69 422.6,789.41 423.21,790.13 423.82,790.85 424.43,791.57 425.04,792.28 425.65,793 426.26,793.71 426.87,794.43 427.48,795.14 428.09,795.85 428.7,796.56 429.31,797.27 429.92,797.98 430.53,798.69 431.14,799.4 431.75,800.1 432.36,800.8 432.97,801.51 433.58,802.21 434.19,802.91 434.8,803.6 435.41,804.3 436.02,804.99 436.63,805.69 437.24,806.38 437.85,807.07 438.46,807.76 439.07,808.44 439.68,809.13 440.29,809.81 440.9,810.49 441.51,811.17 442.12,811.84 442.73,812.52 443.34,813.19 443.95,813.86 444.56,814.53 445.17,815.19 445.78,815.85 446.39,816.51 447,817.17 447.61,817.82 448.22,818.47 448.83,819.12 449.44,819.76 450.05,820.4 450.66,821.04 451.27,821.67 451.88,822.3 452.49,822.93 453.1,823.55 453.71,824.17 454.32,824.79 454.93,825.4 455.54,826 456.15,826.6 456.76,827.2 457.37,827.79 457.98,828.37 458.59,828.95 459.2,829.52 459.81,830.09 460.42,830.65 461.03,831.21 461.64,831.76 462.25,832.3 462.86,832.83 463.47,833.36 464.08,833.88 464.69,834.39 465.3,834.89 465.91,835.38 466.52,835.86 467.13,836.34 467.74,836.8 468.35,837.26 468.96,837.7 469.57,838.14 470.18,838.56 470.79,838.97 471.4,839.36 472.01,839.75 472.62,840.12 473.23,840.48 473.84,840.82 474.45,841.16 475.06,841.47 475.67,841.77 476.28,842.06 476.89,842.32 477.5,842.58 478.11,842.81 478.72,843.03 479.33,843.23 479.94,843.41 480.55,843.58 481.16,843.72 481.77,843.85 482.38,843.96 482.99,844.04 483.6,844.11 484.21,844.16 484.82,844.19 485.43,844.2 486.04,844.19 486.65,844.16 487.26,844.11 487.87,844.03 488.48,843.94 489.09,843.83 489.7,843.69 490.31,843.54 490.92,843.36 491.53,843.17 492.14,842.96 492.75,842.72 493.36,842.48 493.97,842.21 494.58,841.92 495.19,841.62 495.8,841.3 496.41,840.97 497.02,840.62 497.63,840.26 498.24,839.88 498.85,839.49 499.46,839.08 500.07,838.66 500.68,838.23 501.29,837.78 501.9,837.33 502.51,836.86 503.12,836.38 503.73,835.89 504.34,835.4 504.95,834.89 505.56,834.37 506.17,833.84 506.78,833.31 507.39,832.76 508,832.21 508.61,831.65 509.22,831.09 509.83,830.51 510.44,829.93 511.05,829.34 511.66,828.75 512.27,828.15 512.88,827.55 513.49,826.94 514.1,826.32 514.71,825.7 515.32,825.07 515.93,824.45 516.54,823.82 517.15,823.18 517.76,822.55 518.37,821.91 518.98,821.27 519.59,820.62 520.2,819.98 520.81,819.33 521.42,818.68 522.03,818.02 522.64,817.37 523.25,816.71 523.86,816.05 524.47,815.39 525.08,814.72 525.69,814.06 526.3,813.39 526.91,812.72 527.52,812.05 528.13,811.38 528.74,810.71 529.35,810.03 529.96,809.36 530.57,808.68 531.18,808 531.79,807.32 532.4,806.64 533.01,805.95 533.62,805.27 534.23,804.58 534.84,803.89 535.45,803.2 536.06,802.51 536.67,801.82 537.28,801.13 537.89,800.43 538.5,799.74 539.11,799.04 539.72,798.34 540.33,797.64 540.94,796.94 541.55,796.24 542.16,795.53 542.77,794.83 543.38,794.12 543.99,793.41 544.6,792.7 545.21,791.99 545.82,791.28 546.43,790.57 547.04,789.85 547.65,789.14 548.26,788.42 548.87,787.7 549.48,786.98 550.09,786.26 550.7,785.53 551.31,784.81 551.92,784.08 552.53,783.35 553.14,782.62 553.75,781.89 554.36,781.15 554.97,780.42 555.58,779.68 556.19,778.94 556.8,778.2 557.41,777.46 558.02,776.71 558.63,775.97 559.24,775.22 559.85,774.47 560.46,773.72 561.07,772.96 561.68,772.21 562.29,771.45 562.9,770.69 563.51,769.93 564.12,769.17 564.73,768.4 565.34,767.64 565.95,766.88 566.56,766.11 567.17,765.35 567.78,764.58 568.39,763.82 569,763.05 569.61,762.29 570.22,761.52 570.83,760.76 571.44,759.99 572.05,759.22 572.66,758.45 573.27,757.69 573.88,756.92 574.49,756.15 575.1,755.38 575.71,754.61 576.32,753.84 576.93,753.07 577.54,752.3 578.15,751.53 578.76,750.76 579.37,749.99 579.98,749.22 580.59,748.45 581.2,747.67 581.81,746.9 582.42,746.13 583.03,745.36 583.64,744.58 584.25,743.81 584.86,743.04 585.47,742.26 586.08,741.49 586.69,740.72 587.3,739.94 587.91,739.17 588.52,738.39 589.13,737.62 589.74,736.84 590.35,736.07 590.96,735.29 591.57,734.51 592.18,733.74 592.79,732.96 593.4,732.19 594.01,731.41 594.62,730.63 595.23,729.86 595.84,729.08 596.45,728.3 597.06,727.52 597.67,726.75 598.28,725.97 598.89,725.19 599.5,724.41 600.11,723.63 600.72,722.85 601.33,722.08 601.94,721.3 602.55,720.52 603.16,719.74 603.77,718.96 604.38,718.18 604.99,717.4 605.6,716.62 606.21,715.84 606.82,715.06 607.43,714.28 608.04,713.5 608.65,712.72 609.26,711.94 609.87,711.16 610.48,710.38 611.09,709.6 611.7,708.81 612.31,708.03 612.92,707.25 613.53,706.46 614.14,705.68 614.75,704.89 615.36,704.1 615.97,703.31 616.58,702.52 617.19,701.73 617.8,700.94 618.41,700.15 619.02,699.35 619.63,698.55 620.24,697.76 620.85,696.96 621.46,696.16 622.07,695.36 622.68,694.56 623.29,693.76 623.9,692.96 624.51,692.15 625.12,691.35 625.73,690.54 626.34,689.74 626.95,688.93 627.56,688.13 628.17,687.32 628.78,686.51 629.39,685.7 630,684.9 630.61,684.09 631.22,683.28 631.83,682.47 632.44,681.66 633.05,680.84 633.66,680.03 634.27,679.22 634.88,678.41 635.49,677.6 636.1,676.78 636.71,675.97 637.32,675.16 637.93,674.34 638.54,673.53 639.15,672.72 639.76,671.9 640.37,671.09 640.98,670.28 641.59,669.46 642.2,668.65 642.81,667.84 643.42,667.02 644.03,666.21 644.64,665.4 645.25,664.58 645.86,663.77 646.47,662.96 647.08,662.15 647.69,661.34 648.3,660.52 648.91,659.71 649.52,658.9 650.13,658.09 650.74,657.28 651.35,656.47 651.96,655.66 652.57,654.85 653.18,654.05 653.79,653.24 654.4,652.43 655.01,651.63 655.62,650.82 656.23,650.01 656.84,649.21 657.45,648.41 658.06,647.6 658.67,646.8 659.28,646 659.89,645.2 660.5,644.4 661.11,643.6 661.72,642.81 662.33,642.01 662.94,641.21 663.55,640.42 664.16,639.63 664.77,638.83 665.38,638.04 665.99,637.25 666.6,636.46" fill="none" stroke="#2a9e4b" stroke-width="1.83" stroke-linejoin="round" stroke-linecap="square"/>
<polyline points="386,835 399.91,839.11 411.5,842.5 423.21,844.2 439.56,844.91 454.44,844.48 465.3,843.78 477.87,843.07 489.58,841.65 508,840.8 524.59,841.94 534.47,842.79 547.89,843.92 575.95,844.91 594.5,844.2 617.92,841.65 645.98,837.83 655.25,835.71 667.21,832.71" fill="none" stroke="#f97e27" stroke-width="1.83" stroke-linejoin="round" stroke-linecap="square"/>
<rect x="376.52" y="630.92" width="86" height="40.75" rx="1.73" fill="#fff" fill-opacity="0.8" stroke="#ccc" stroke-width="0.86"/>
<line x1="379.98" y1="637.75" x2="397.26" y2="637.75" stroke="#000" stroke-width="1.83" stroke-dasharray="1.73 2.85"/>
<text x="404.17" y="640.82" font-size="8.64">D_safety</text>
<line x1="379.98" y1="650.47" x2="397.26" y2="650.47" stroke="#2a9e4b" stroke-width="1.83" stroke-linecap="square"/>
<text x="404.17" y="653.54" font-size="8.64">T0: HeadOn</text>
<line x1="379.98" y1="663.19" x2="397.26" y2="663.19" stroke="#f97e27" stroke-width="1.83" stroke-linecap="square"/>
<text x="404.17" y="666.26" font-size="8.64">T1: GiveWay</text>
<text class="cap" x="9.7" y="281.1" textLength="22.7" lengthAdjust="spacingAndGlyphs">(a)</text>
<text class="cap" x="39.1" y="281.1" textLength="36.5" lengthAdjust="spacingAndGlyphs">High</text>
<text class="cap" x="84.3" y="281.1" textLength="84.7" lengthAdjust="spacingAndGlyphs">keep-speed</text>
<text class="cap" x="178.5" y="281.1" textLength="66.6" lengthAdjust="spacingAndGlyphs">priority:</text>
<text class="cap" x="251.3" y="281.1" textLength="79.7" lengthAdjust="spacingAndGlyphs">trajectory</text>
<text class="cap" x="356" y="281.1" textLength="22.7" lengthAdjust="spacingAndGlyphs">(b)</text>
<text class="cap" x="386.6" y="281.1" textLength="33.5" lengthAdjust="spacingAndGlyphs">Low</text>
<text class="cap" x="428.8" y="281.1" textLength="84.4" lengthAdjust="spacingAndGlyphs">keep-speed</text>
<text class="cap" x="521.7" y="281.1" textLength="66.4" lengthAdjust="spacingAndGlyphs">priority:</text>
<text class="cap" x="594.3" y="281.1" textLength="79.7" lengthAdjust="spacingAndGlyphs">trajectory</text>
<text class="cap" x="-0.5" y="591.4" textLength="20.9" lengthAdjust="spacingAndGlyphs">(c)</text>
<text class="cap" x="27.8" y="591.4" textLength="37" lengthAdjust="spacingAndGlyphs">High</text>
<text class="cap" x="73.3" y="591.4" textLength="84.7" lengthAdjust="spacingAndGlyphs">keep-speed</text>
<text class="cap" x="167.6" y="591.4" textLength="66.3" lengthAdjust="spacingAndGlyphs">priority:</text>
<text class="cap" x="240" y="591.4" textLength="44.6" lengthAdjust="spacingAndGlyphs">speed</text>
<text class="cap" x="292.8" y="591.4" textLength="48.3" lengthAdjust="spacingAndGlyphs">profile</text>
<text class="cap" x="345.2" y="591.4" textLength="22.7" lengthAdjust="spacingAndGlyphs">(d)</text>
<text class="cap" x="376.1" y="591.4" textLength="33" lengthAdjust="spacingAndGlyphs">Low</text>
<text class="cap" x="417.3" y="591.4" textLength="84.9" lengthAdjust="spacingAndGlyphs">keep-speed</text>
<text class="cap" x="510.6" y="591.4" textLength="66.3" lengthAdjust="spacingAndGlyphs">priority:</text>
<text class="cap" x="583" y="591.4" textLength="44.6" lengthAdjust="spacingAndGlyphs">speed</text>
<text class="cap" x="635.7" y="591.4" textLength="48.4" lengthAdjust="spacingAndGlyphs">profile</text>
<text class="cap" x="30.2" y="911.5" textLength="21" lengthAdjust="spacingAndGlyphs">(e)</text>
<text class="cap" x="58.1" y="911.5" textLength="37" lengthAdjust="spacingAndGlyphs">High</text>
<text class="cap" x="103.8" y="911.5" textLength="85" lengthAdjust="spacingAndGlyphs">keep-speed</text>
<text class="cap" x="198.5" y="911.5" textLength="66.4" lengthAdjust="spacingAndGlyphs">priority:</text>
<text class="cap" x="271.3" y="911.5" textLength="40.3" lengthAdjust="spacingAndGlyphs">DTC</text>
<text class="cap" x="377.8" y="911.5" textLength="19.6" lengthAdjust="spacingAndGlyphs">(f)</text>
<text class="cap" x="404.9" y="911.5" textLength="33.2" lengthAdjust="spacingAndGlyphs">Low</text>
<text class="cap" x="446.3" y="911.5" textLength="85" lengthAdjust="spacingAndGlyphs">keep-speed</text>
<text class="cap" x="539.8" y="911.5" textLength="66.4" lengthAdjust="spacingAndGlyphs">priority:</text>
<text class="cap" x="612.6" y="911.5" textLength="40.1" lengthAdjust="spacingAndGlyphs">DTC</text>
</svg>
</body></html>
